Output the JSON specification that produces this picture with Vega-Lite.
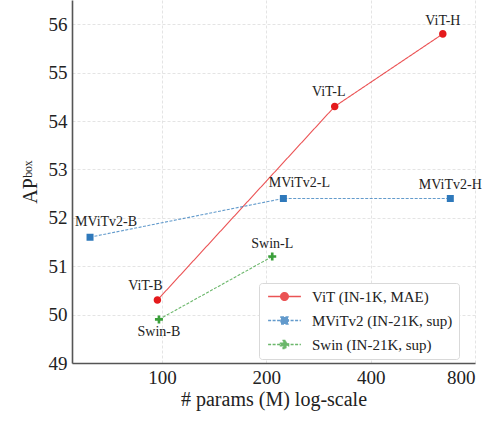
{
  "$schema": "https://vega.github.io/schema/vega-lite/v6.json",
  "width": 403,
  "height": 363,
  "autosize": {"type": "none"},
  "padding": {"left": 72, "top": 0, "right": 25, "bottom": 73},
  "background": "white",
  "data": {
    "values": [
      {"model": "ViT-B", "series": "ViT (IN-1K, MAE)", "params": 97, "ap": 50.3},
      {"model": "ViT-L", "series": "ViT (IN-1K, MAE)", "params": 315, "ap": 54.3},
      {"model": "ViT-H", "series": "ViT (IN-1K, MAE)", "params": 646, "ap": 55.8},
      {"model": "MViTv2-B", "series": "MViTv2 (IN-21K, sup)", "params": 62, "ap": 51.6},
      {"model": "MViTv2-L", "series": "MViTv2 (IN-21K, sup)", "params": 224, "ap": 52.4},
      {"model": "MViTv2-H", "series": "MViTv2 (IN-21K, sup)", "params": 679, "ap": 52.4},
      {"model": "Swin-B", "series": "Swin (IN-21K, sup)", "params": 98, "ap": 49.9},
      {"model": "Swin-L", "series": "Swin (IN-21K, sup)", "params": 208, "ap": 51.2}
    ]
  },
  "encoding": {
    "x": {
      "field": "params",
      "type": "quantitative",
      "title": "# params (M) log-scale",
      "scale": {"type": "log", "domain": [55, 800], "nice": false},
      "axis": {"values": [100, 200, 400, 800], "format": "d", "titlePadding": 2}
    },
    "y": {
      "field": "ap",
      "type": "quantitative",
      "title": "APᵇᵒˣ",
      "scale": {"domain": [49, 56.5], "nice": false, "zero": false},
      "axis": {"values": [49, 50, 51, 52, 53, 54, 55, 56], "titlePadding": 8}
    }
  },
  "layer": [
    {
      "mark": {"type": "line", "strokeWidth": 1.1, "opacity": 0.75},
      "encoding": {
        "color": {"field": "series", "type": "nominal"},
        "strokeDash": {
          "field": "series",
          "type": "nominal",
          "scale": {
            "domain": ["ViT (IN-1K, MAE)", "MViTv2 (IN-21K, sup)", "Swin (IN-21K, sup)"],
            "range": [[1, 0], [3, 1.5], [3, 1.5]]
          },
          "legend": null
        }
      }
    },
    {
      "mark": {"type": "point", "filled": true, "opacity": 1, "size": 64},
      "encoding": {
        "color": {
          "field": "series",
          "type": "nominal",
          "scale": {
            "domain": ["ViT (IN-1K, MAE)", "MViTv2 (IN-21K, sup)", "Swin (IN-21K, sup)"],
            "range": ["#e41a1c", "#2f79bb", "#3a9f3a"]
          },
          "legend": {
            "title": null,
            "orient": "none",
            "legendX": 187,
            "legendY": 283,
            "padding": 6,
            "strokeColor": "#d9d9d9",
            "fillColor": "white",
            "cornerRadius": 3,
            "rowPadding": 8,
            "symbolOffset": 12,
            "labelOffset": 20,
            "symbolSize": 64,
            "labelFont": "Liberation Serif",
            "labelFontSize": 15,
            "labelColor": "#222",
            "encode": {
              "symbols": {
                "stroke": {"value": {"expr": "scale('color', datum.value)"}},
                "strokeWidth": {"value": 1.3},
                "strokeOpacity": {"value": 0.6},
                "strokeDash": {"value": {"expr": "datum.value == 'ViT (IN-1K, MAE)' ? [1, 0] : [3, 1.5]"}}
              }
            }
          }
        },
        "shape": {
          "field": "series",
          "type": "nominal",
          "scale": {
            "domain": ["ViT (IN-1K, MAE)", "MViTv2 (IN-21K, sup)", "Swin (IN-21K, sup)"],
            "range": [
              "M-4.1,0H4.1M-0.94,0A0.94,0.94 0 1,0 0.94,0A0.94,0.94 0 1,0 -0.94,0Z",
              "M-4.1,0H4.1M-0.875,-0.875H0.875V0.875H-0.875Z",
              "M-4.1,0H4.1M-1,-0.33H-0.33V-1H0.33V-0.33H1V0.33H0.33V1H-0.33V0.33H-1Z"
            ]
          },
          "legend": null
        }
      }
    },
    {
      "transform": [{"filter": {"field": "model", "oneOf": ["ViT-H", "MViTv2-H", "Swin-L"]}}],
      "mark": {"type": "text", "font": "Liberation Serif", "fontSize": 14, "color": "#222", "dy": -13, "baseline": "middle", "align": "center"},
      "encoding": {"text": {"field": "model"}}
    },
    {
      "transform": [{"filter": {"field": "model", "equal": "ViT-L"}}],
      "mark": {"type": "text", "font": "Liberation Serif", "fontSize": 14, "color": "#222", "dx": -6, "dy": -14, "baseline": "middle", "align": "center"},
      "encoding": {"text": {"field": "model"}}
    },
    {
      "transform": [{"filter": {"field": "model", "equal": "ViT-B"}}],
      "mark": {"type": "text", "font": "Liberation Serif", "fontSize": 14, "color": "#222", "dx": -12, "dy": -14, "baseline": "middle", "align": "center"},
      "encoding": {"text": {"field": "model"}}
    },
    {
      "transform": [{"filter": {"field": "model", "oneOf": ["MViTv2-B", "MViTv2-L"]}}],
      "mark": {"type": "text", "font": "Liberation Serif", "fontSize": 14, "color": "#222", "dx": 16, "dy": -15, "baseline": "middle", "align": "center"},
      "encoding": {"text": {"field": "model"}}
    },
    {
      "transform": [{"filter": {"field": "model", "equal": "Swin-B"}}],
      "mark": {"type": "text", "font": "Liberation Serif", "fontSize": 14, "color": "#222", "dy": 13, "baseline": "middle", "align": "center"},
      "encoding": {"text": {"field": "model"}}
    }
  ],
  "config": {
    "font": "Liberation Serif",
    "view": {"stroke": null},
    "axis": {
      "labelFont": "Liberation Serif",
      "titleFont": "Liberation Serif",
      "labelFontSize": 19,
      "titleFontSize": 20,
      "titleFontWeight": "normal",
      "labelColor": "#222",
      "titleColor": "#222",
      "domainColor": "#555",
      "domainWidth": 1.6,
      "ticks": false,
      "labelPadding": 5,
      "gridColor": "#dddddd",
      "gridDash": [3, 2],
      "gridWidth": 0.8
    }
  }
}
